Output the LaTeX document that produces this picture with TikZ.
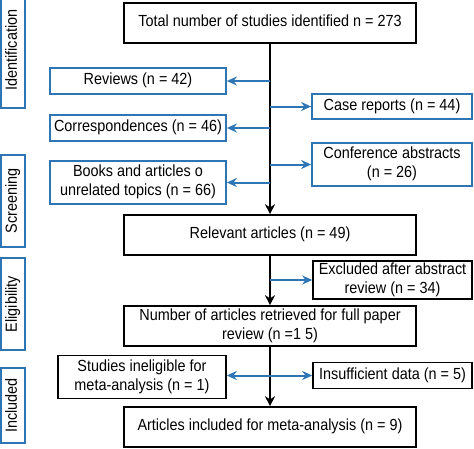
\documentclass[tikz,border=0pt]{standalone}
\usepackage{fontspec}
\usepackage{graphicx}
\setmainfont{Liberation Sans}
\usetikzlibrary{arrows.meta}
\definecolor{flowblue}{RGB}{46,117,182}
\newcommand{\boxtxt}[1]{\scalebox{1.03}[1.15]{\begin{tabular}{@{}c@{}}#1\end{tabular}}}
\begin{document}
\begin{tikzpicture}[x=1pt,y=-1pt,
  every node/.style={font=\fontsize{14}{16.5}\selectfont, inner sep=0pt, align=center},
  mainbox/.style={draw=black, line width=1.6pt, minimum width=292pt, minimum height=40pt},
  bluebox/.style={draw=flowblue, line width=1.7pt},
  blackbox/.style={draw=black, line width=1.6pt},
  sidebox/.style={draw=flowblue, line width=1.7pt, minimum height=24pt, rotate=90},
  downarrow/.style={draw=black, line width=1.6pt, -{Stealth[length=10pt,width=10pt]}},
  bluearrow/.style={draw=flowblue, line width=2pt, -{Stealth[length=10pt,width=9pt]}},
  bluearrows/.style={draw=flowblue, line width=2pt, {Stealth[length=10pt,width=9pt]}-{Stealth[length=10pt,width=9pt]}}
]
\useasboundingbox (0,0) rectangle (474,448);
\fill[white] (0,0) rectangle (474,448);

% side labels (rotated: minimum width = vertical extent)
\node[sidebox, minimum width=116pt] (sIdent) at (13,50) {\boxtxt{Identification}};
\node[sidebox, minimum width=92pt] (sScreen) at (13,201) {\boxtxt{Screening}};
\node[sidebox, minimum width=92pt] (sElig) at (13,304) {\boxtxt{Eligibility}};
\node[sidebox, minimum width=75pt] (sIncl) at (13,405.5) {\boxtxt{Included}};

% main column
\node[mainbox] (total) at (270,23) {\boxtxt{Total number of studies identified n = 273}};
\node[mainbox] (relevant) at (270,235) {\boxtxt{Relevant articles (n = 49)}};
\node[mainbox] (retrieved) at (270,326) {\boxtxt{Number of articles retrieved for full paper\\review (n =1 5)}};
\node[mainbox] (included) at (270,427) {\boxtxt{Articles included for meta-analysis (n = 9)}};

% left boxes
\node[bluebox, minimum width=176pt, minimum height=26pt] (reviews) at (138,81) {\boxtxt{Reviews (n = 42)}};
\node[bluebox, minimum width=176pt, minimum height=26pt] (corresp) at (138,128) {\boxtxt{Correspondences (n = 46)}};
\node[bluebox, minimum width=176pt, minimum height=43pt] (books) at (138,182.5) {\boxtxt{Books and articles o\\unrelated topics (n = 66)}};
\node[blackbox, minimum width=168pt, minimum height=43pt] (inelig) at (142,377) {\boxtxt{Studies ineligible for\\meta-analysis (n = 1)}};

% right boxes
\node[bluebox, minimum width=160pt, minimum height=25pt] (case) at (392,106.5) {\boxtxt{Case reports (n = 44)}};
\node[bluebox, minimum width=160pt, minimum height=43pt] (conf) at (392,164.5) {\boxtxt{Conference abstracts\\(n = 26)}};
\node[blackbox, minimum width=159pt, minimum height=38pt] (excluded) at (392.5,280) {\boxtxt{Excluded after abstract\\review (n = 34)}};
\node[blackbox, minimum width=159pt, minimum height=26pt] (insuff) at (392.5,375.5) {\boxtxt{Insufficient data (n = 5)}};

% main flow
\draw[downarrow] (total.south) -- (relevant.north);
\draw[downarrow] (relevant.south) -- (retrieved.north);
\draw[downarrow] (retrieved.south) -- (included.north);

% side arrows
\draw[bluearrow] (total.south |- reviews.east) -- (reviews.east);
\draw[bluearrow] (total.south |- case.west) -- (case.west);
\draw[bluearrow] (total.south |- corresp.east) -- (corresp.east);
\draw[bluearrow] (total.south |- conf.west) -- (conf.west);
\draw[bluearrow] (total.south |- books.east) -- (books.east);
\draw[bluearrow] (relevant.south |- excluded.west) -- (excluded.west);
\draw[bluearrows] (inelig.east |- insuff.west) -- (insuff.west);
\end{tikzpicture}
\end{document}
